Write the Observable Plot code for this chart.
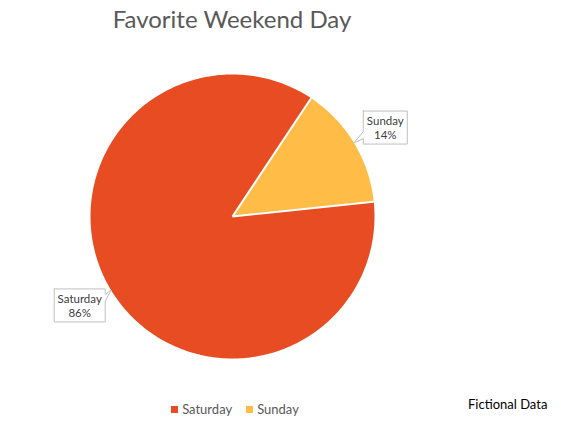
<!DOCTYPE html>
<html><head><meta charset="utf-8">
<script src="https://cdn.jsdelivr.net/npm/d3@7"></script>
<script src="https://cdn.jsdelivr.net/npm/@observablehq/plot@0.6"></script>
<style>
body{margin:0;background:#fff;font-family:Lato,"Open Sans",sans-serif;}
#wrap{position:relative;width:561px;height:427px;}
#title{position:absolute;left:0;top:4px;width:464px;text-align:center;font-size:24px;color:#595959;}
#chart{position:absolute;left:0;top:40px;}
#legend{position:absolute;left:0;top:401px;width:470px;text-align:center;font-size:13px;color:#595959;}
#legend span.sw{display:inline-block;width:7px;height:7px;margin-right:4px;vertical-align:1px;}
#legend span.item{margin:0 7px;}
#caption{position:absolute;left:468px;top:396px;font-size:13px;color:#000;}
</style></head>
<body>
<div id="wrap">
<div id="title">Favorite Weekend Day</div>
<div id="chart"></div>
<div id="legend"></div>
<div id="caption">Fictional Data</div>
</div>
<script>
const categories = ["Saturday", "Sunday"];
const values = [86, 14];
const labels = ["86%", "14%"];
const colors = ["#E84C22", "#FFBC47"];

const firstSliceDeg = 84;
const labelAngleNudge = 1;
const R = 142; // px per data unit
const total = d3.sum(values);
const deg2rad = Math.PI / 180;

// slice angles (clockwise from 12 o'clock)
let acc = firstSliceDeg;
const slices = categories.map((c, i) => {
  const a0 = acc, a1 = acc + values[i] / total * 360;
  acc = a1;
  return {cat: c, a0, a1, mid: (a0 + a1) / 2, value: values[i], label: labels[i]};
});
const pt = (deg, r) => ({x: r * Math.sin(deg * deg2rad), y: r * Math.cos(deg * deg2rad)});

const arcPts = [];
slices.forEach(s => {
  arcPts.push({cat: s.cat, ...pt(0, 0)});
  const n = Math.ceil(s.a1 - s.a0);
  for (let k = 0; k <= n; k++) arcPts.push({cat: s.cat, ...pt(s.a0 + (s.a1 - s.a0) * k / n, 1)});
  arcPts.push({cat: s.cat, ...pt(0, 0)});
});
const seps = slices.map(s => ({x1: 0, y1: 0, x2: pt(s.a0, 1).x, y2: pt(s.a0, 1).y}));

// callouts
const boxW = {Saturday: 51, Sunday: 44}, boxH = 33;
const callouts = [], texts = [];
slices.forEach(s => {
  const c = pt(s.mid + labelAngleNudge, 1.245);
  const tip = pt(s.mid, 1);
  const hw = boxW[s.cat] / 2 / R, hh = boxH / 2 / R;
  const left = tip.x < c.x;
  const down = tip.y < c.y;
  const b1 = 4 / R, b2 = 11 / R;
  const ex = left ? c.x - hw : c.x + hw;
  const by1 = down ? c.y - b1 : c.y + b1;
  const by2 = down ? c.y - b2 : c.y + b2;
  const lo = Math.min(by1, by2), hi = Math.max(by1, by2);
  const TL = [c.x - hw, c.y + hh], TR = [c.x + hw, c.y + hh], BR = [c.x + hw, c.y - hh], BL = [c.x - hw, c.y - hh];
  const poly = left
    ? [TL, TR, BR, BL, [ex, lo], [tip.x, tip.y], [ex, hi], TL]
    : [TL, TR, [ex, hi], [tip.x, tip.y], [ex, lo], BR, BL, TL];
  poly.forEach(p => callouts.push({cat: s.cat, x: p[0], y: p[1]}));
  texts.push({x: c.x, y: c.y, t: s.cat + "\n" + s.label});
});

const plot = Plot.plot({
  width: 561, height: 350,
  x: {domain: [-1, 1], range: [232 - R, 232 + R], axis: null},
  y: {domain: [-1, 1], range: [176 + R, 176 - R], axis: null},
  color: {domain: categories, range: colors},
  style: {fontFamily: "Lato, 'Open Sans', sans-serif", background: "white"},
  marks: [
    Plot.line(arcPts, {x: "x", y: "y", z: "cat", fill: "cat", stroke: null, curve: "linear"}),
    Plot.link(seps, {x1: "x1", y1: "y1", x2: "x2", y2: "y2", stroke: "white", strokeWidth: 2}),
    Plot.line(callouts, {x: "x", y: "y", z: "cat", fill: "white", stroke: "#BFBFBF", strokeWidth: 1, curve: "linear"}),
    Plot.text(texts, {x: "x", y: "y", text: "t", fontSize: 11.5, fill: "#404040", lineHeight: 1.22})
  ]
});
document.getElementById("chart").appendChild(plot);

const lg = document.getElementById("legend");
categories.forEach((c, i) => {
  const s = document.createElement("span");
  s.className = "item";
  s.innerHTML = `<span class="sw" style="background:${colors[i]}"></span>${c}`;
  lg.appendChild(s);
});
</script>
</body></html>
